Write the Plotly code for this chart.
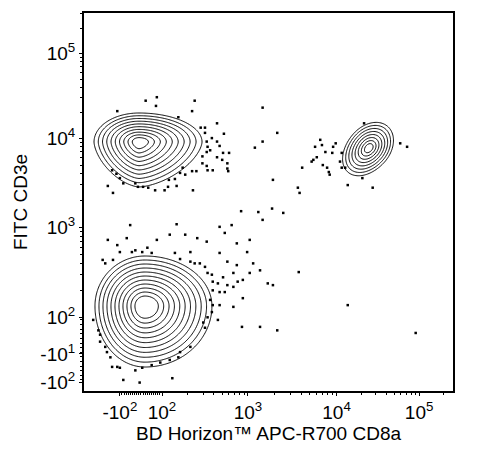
import numpy as np
import plotly.graph_objects as go

# ---------------- data (biexponential display scale, 1 unit = 1 decade) ----------------
# outlier events drawn as dots: CD8a (x) and CD3e (y)
dots_x = [1.94, 1.81, 2.38, 1.93, 2.35, 1.48, 3.17, 2.19, 2.64, 2.45, 2.50, 2.50, 2.58, 2.72, 3.34,
          2.52, 2.64, 3.17, 2.53, 2.67, 2.56, 2.52, 2.71, 3.08, 2.47, 2.64, 2.78, 2.70, 2.47, 2.76,
          2.52, 2.59, 2.35, 2.40, 2.53, 2.76, 2.24, 2.21, 2.27, 2.08, 2.15, 1.42, 1.47, 1.51, 1.55,
          1.37, 1.43, 1.69, 1.72, 1.78, 1.84, 1.92, 2.03, 2.07, 2.17, 2.36, 3.29, 2.77,
          1.63, 2.17, 2.67, 2.81, 3.17, 2.09, 2.27, 2.73, 1.37, 1.59, 1.94, 2.41, 2.52, 2.87, 3.02,
          1.48, 1.51, 1.65, 1.69, 1.77, 1.83, 1.88, 2.15, 2.33, 2.67, 2.99, 1.31, 1.34, 1.43, 2.21,
          2.33, 2.38, 2.44, 2.50, 2.76, 2.87, 3.06, 2.53, 2.58, 2.71, 2.83, 2.94, 3.02, 3.14, 2.59,
          2.65, 2.76, 2.83, 2.88, 3.23, 3.29, 2.59, 2.67, 2.73, 2.94, 2.56, 2.59, 2.67, 2.83, 2.58,
          2.53, 2.48, 2.50, 2.65, 2.93, 3.14, 3.34, 1.20, 1.26, 1.28, 1.34, 1.36, 1.40, 2.33, 2.21,
          1.42, 1.48, 1.51, 1.69, 1.77, 1.88, 1.98, 2.09, 2.19, 2.12, 1.55, 1.74, 1.28,
          4.35, 3.84, 3.78, 3.86, 3.99, 4.02, 3.90, 3.98, 3.80, 4.09, 3.74, 3.76, 3.87, 3.92, 3.94,
          3.95, 4.07, 4.09, 4.13, 3.63, 4.77, 4.85, 4.16, 4.33, 4.45, 3.60,
          4.16, 3.59, 3.28, 3.41, 2.92, 3.12, 4.95, 3.58]
dots_y = [4.48, 4.44, 4.44, 4.38, 4.32, 4.32, 4.36, 4.25, 4.18, 4.13, 4.13, 4.07, 4.01, 4.06, 4.07,
          3.97, 3.97, 3.97, 3.91, 3.92, 3.87, 3.85, 3.84, 3.90, 3.80, 3.79, 3.84, 3.76, 3.72, 3.72,
          3.69, 3.64, 3.63, 3.63, 3.64, 3.66, 3.67, 3.61, 3.59, 3.53, 3.54, 3.64, 3.60, 3.55, 3.49,
          3.46, 3.38, 3.49, 3.45, 3.45, 3.44, 3.41, 3.41, 3.45, 3.46, 3.41, 3.53, 3.63,
          3.01, 3.02, 2.99, 3.01, 3.07, 2.90, 2.90, 2.92, 2.84, 2.86, 2.84, 2.86, 2.82, 2.80, 2.84,
          2.78, 2.70, 2.70, 2.72, 2.70, 2.75, 2.69, 2.69, 2.70, 2.69, 2.70, 2.61, 2.57, 2.61, 2.62,
          2.59, 2.57, 2.57, 2.53, 2.59, 2.55, 2.57, 2.46, 2.44, 2.41, 2.46, 2.38, 2.46, 2.49, 2.36,
          2.34, 2.32, 2.30, 2.36, 2.34, 2.32, 2.26, 2.24, 2.24, 2.17, 2.15, 2.09, 2.09, 2.07, 2.01,
          1.95, 1.89, 1.83, 1.92, 1.84, 1.84, 1.80, 1.92, 1.80, 1.75, 1.61, 1.55, 1.49, 1.61, 1.55,
          1.38, 1.38, 1.37, 1.34, 1.37, 1.40, 1.43, 1.46, 1.49, 1.25, 1.23, 1.20, 1.67,
          4.18, 3.99, 3.91, 3.93, 3.91, 3.95, 3.85, 3.84, 3.79, 3.84, 3.74, 3.76, 3.70, 3.67, 3.62,
          3.59, 3.74, 3.67, 3.67, 3.67, 3.95, 3.91, 3.47, 3.55, 3.44, 3.38,
          2.09, 2.47, 3.20, 3.15, 3.17, 3.16, 1.77, 3.44]

# contour models of the three populations
pop_names = ["CD3+ CD8-", "CD3- CD8-", "CD3+ CD8+"]
pop_cx = [1.733, 1.802, 4.407]
pop_cy = [3.966, 2.080, 3.897]
pop_sx_neg = [0.523, 0.581, 0.37]
pop_sx_pos = [0.733, 0.779, 0.33]
pop_sy_neg = [0.517, 0.701, 0.243]
pop_sy_pos = [0.333, 0.575, 0.243]
pop_p_low = [1.6, 2.0, 2.0]          # shape exponent of the lower half (teardrop tip)
pop_angle = [0.0, 0.0, 48.0]
pop_level_start = [0.15, 0.20, 0.17]
pop_level_count = [10, 11, 8]

x_tick_pos = [1.51, 2.0, 3.0, 4.03, 4.99]
x_tick_text = ["-10<sup>2</sup>", "10<sup>2</sup>", "10<sup>3</sup>", "10<sup>4</sup>", "10<sup>5</sup>"]
y_tick_pos = [1.20, 1.53, 1.95, 2.98, 4.01, 4.98]
y_tick_text = ["-10<sup>2</sup>", "-10<sup>1</sup>", "10<sup>2</sup>", "10<sup>3</sup>", "10<sup>4</sup>", "10<sup>5</sup>"]

x_title = "BD Horizon™ APC-R700 CD8a"
y_title = "FITC CD3e"

x_range = [1.093, 5.384]
y_range = [1.103, 5.448]

# ---------------- figure ----------------
fig = go.Figure()

for i in range(len(pop_cx)):
    span = 1.35 * max(pop_sx_neg[i], pop_sx_pos[i], pop_sy_neg[i], pop_sy_pos[i])
    gx = np.arange(pop_cx[i] - span, pop_cx[i] + span, 0.01)
    gy = np.arange(pop_cy[i] - span, pop_cy[i] + span, 0.01)
    X, Y = np.meshgrid(gx, gy)
    dx, dy = X - pop_cx[i], Y - pop_cy[i]
    th = np.deg2rad(pop_angle[i])
    u = dx * np.cos(th) + dy * np.sin(th)
    v = -dx * np.sin(th) + dy * np.cos(th)
    su = np.where(u < 0, pop_sx_neg[i], pop_sx_pos[i])
    sv = np.where(v < 0, pop_sy_neg[i], pop_sy_pos[i])
    p = np.where(v < 0, pop_p_low[i], 2.0)
    r = (np.abs(u / su) ** p + np.abs(v / sv) ** p) ** (1.0 / p)
    start = pop_level_start[i]
    size = (1.0 - start) / (pop_level_count[i] - 1)
    fig.add_trace(go.Contour(
        x=np.round(gx, 3), y=np.round(gy, 3), z=np.round(r, 4),
        contours=dict(start=start, end=1.0001, size=size, coloring="none"),
        line=dict(color="black", width=1, smoothing=1),
        showscale=False, hoverinfo="skip", name=pop_names[i],
    ))

fig.add_trace(go.Scatter(
    x=dots_x, y=dots_y, mode="markers",
    marker=dict(symbol="square", size=2.5, color="black", line=dict(width=0)),
    hoverinfo="skip", name="events",
))

def minor_ticks(major):
    out = []
    for a, b in zip(major[:-1], major[1:]):
        for k in range(2, 10):
            out.append(a + np.log10(k) * (b - a))
    return out

x_minor = minor_ticks(x_tick_pos[1:])
x_minor += [x_tick_pos[-1] + np.log10(2) * (x_tick_pos[-1] - x_tick_pos[-2])]
x_minor += [1.755 + v / 100.0 * 0.245 for v in range(-90, 100, 10)]
y_minor = minor_ticks(y_tick_pos[2:])
y_minor += [y_tick_pos[-1] + np.log10(k) * (y_tick_pos[-1] - y_tick_pos[-2]) for k in range(2, 4)]
y_minor += list(np.linspace(1.23, 1.92, 14))

axis_common = dict(
    showline=True, linewidth=2, linecolor="black", mirror=True,
    showgrid=False, zeroline=False, ticks="outside", ticklen=3, tickwidth=1, tickcolor="black",
    tickfont=dict(size=19, color="black", family="Liberation Sans, Arial, sans-serif"),
    automargin=False,
)

fig.update_layout(
    width=483, height=461,
    margin=dict(l=84, r=30, t=13, b=70),
    plot_bgcolor="white", paper_bgcolor="white",
    showlegend=False,
    font=dict(family="Liberation Sans, Arial, sans-serif", color="black", size=17),
    xaxis=dict(range=x_range, tickmode="array", tickvals=x_tick_pos, ticktext=x_tick_text,
               minor=dict(tickvals=x_minor, ticks="outside", ticklen=2, tickcolor="black"),
               title=dict(text=x_title, font=dict(size=19, color="black"), standoff=2),
               **axis_common),
    yaxis=dict(range=y_range, tickmode="array", tickvals=y_tick_pos, ticktext=y_tick_text,
               minor=dict(tickvals=y_minor, ticks="outside", ticklen=2, tickcolor="black"),
               title=dict(text=y_title, font=dict(size=19, color="black"), standoff=8),
               **axis_common),
)

fig.write_html("out.html")
